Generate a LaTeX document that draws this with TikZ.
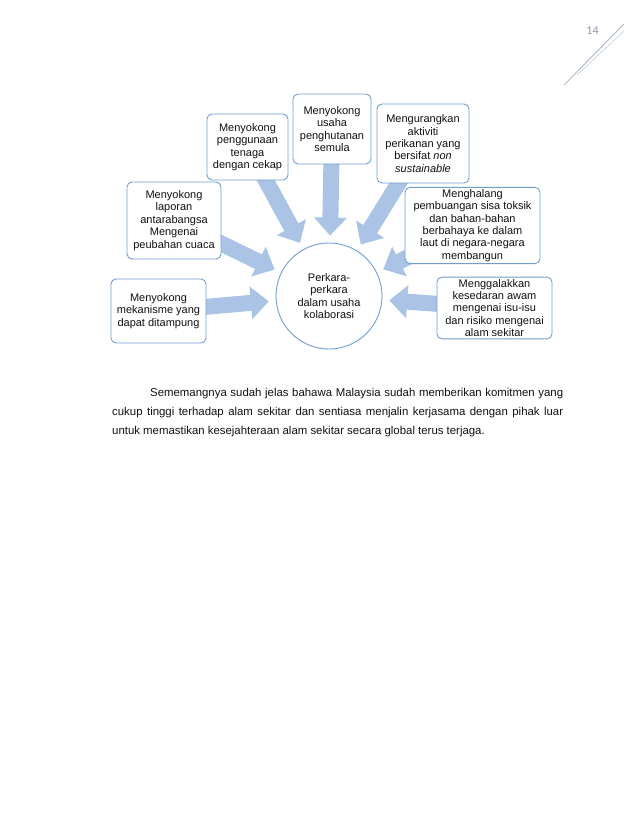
\documentclass[tikz,border=0pt]{standalone}
\usepackage{fontspec}
\setmainfont{Liberation Sans}
\newfontfamily\pagefont{Carlito}
\usetikzlibrary{arrows.meta,backgrounds}
\definecolor{ink}{HTML}{111111}
\definecolor{boxline}{HTML}{739CD0}
\definecolor{arrowfill}{HTML}{ABC4E6}
\definecolor{pagegrey}{HTML}{8A98AE}
\definecolor{rulegrey}{HTML}{AEB9CB}
\newcommand{\boxsize}{\fontsize{11}{12.4}\selectfont}
\newcommand{\parasize}{\fontsize{11.4}{19}\selectfont}
\tikzset{
 every node/.append style={font=\boxsize,text=ink,align=center},
 box/.style={draw=boxline,fill=white,rounded corners=5pt,line width=.9pt,inner sep=2pt},
 hub/.style={circle,draw=boxline,fill=white,line width=.9pt,minimum size=106pt,inner sep=0pt},
 push/.style={-{Triangle[length=18pt,width=32pt]},draw=arrowfill,line width=16pt,shorten >=7pt},
 para/.style={font=\parasize,text width=451pt,align=justify,inner sep=0pt,anchor=north west},
 pagenum/.style={font=\pagefont\fontsize{12}{14}\selectfont,text=pagegrey,inner sep=0pt},
 corner/.style={draw=rulegrey,line width=.9pt},
}

\begin{document}
\begin{tikzpicture}[x=1pt,y=-1pt]

\useasboundingbox (0,0) rectangle (638,826);

\node[pagenum] (pagenum) at (592.5,31) {14};
\draw[corner] (564,85) -- (624,24);
\draw[corner,draw=rulegrey!70,line width=.6pt] (577,75) -- (624,31);

\node[hub] (hub) at (329,296) {Perkara-\\perkara\\dalam usaha\\kolaborasi};

\node[box,minimum width=81pt,minimum height=66pt] (tenaga) at (247.5,147) {Menyokong\\penggunaan\\tenaga\\dengan cekap};
\node[box,minimum width=78pt,minimum height=70pt] (hutan) at (332,129) {Menyokong\\usaha\\penghutanan\\semula};
\node[box,minimum width=92pt,minimum height=79pt] (ikan) at (423,143.5) {Mengurangkan\\aktiviti\\perikanan yang\\bersifat \textit{non}\\\textit{sustainable}};
\node[box,minimum width=135pt,minimum height=75pt] (toksik) at (472.5,225.5) {Menghalang\\pembuangan sisa toksik\\dan bahan-bahan\\berbahaya ke dalam\\laut di negara-negara\\membangun};
\node[box,minimum width=115pt,minimum height=60pt] (awam) at (494.5,308) {Menggalakkan\\kesedaran awam\\mengenai isu-isu\\dan risiko mengenai\\alam sekitar};
\node[box,minimum width=94pt,minimum height=77pt] (cuaca) at (174,220.5) {Menyokong\\laporan\\antarabangsa\\Mengenai\\peubahan cuaca};
\node[box,minimum width=95pt,minimum height=64pt] (tampung) at (158.5,311) {Menyokong\\mekanisme yang\\dapat ditampung};

\begin{scope}[on background layer]
\fill[white] (0,0) rectangle (638,826);
\foreach \src in {tenaga,hutan,ikan,toksik,awam,cuaca,tampung}
  \draw[push] (\src.center) -- (hub);
\end{scope}

\node[para] (teks) at (112,388) {\hspace*{38pt}Sememangnya sudah jelas bahawa Malaysia sudah memberikan komitmen yang\linebreak cukup tinggi terhadap alam sekitar dan sentiasa menjalin kerjasama dengan pihak luar\linebreak untuk memastikan kesejahteraan alam sekitar secara global terus terjaga.};

\end{tikzpicture}
\end{document}
